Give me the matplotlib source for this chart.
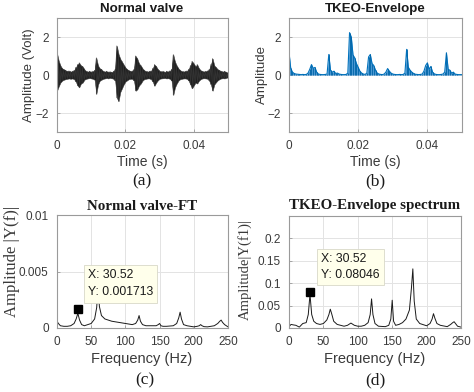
import matplotlib
matplotlib.use("Agg")
import matplotlib.pyplot as plt
import numpy as np

W, H = 474, 392
SANS = ['Liberation Sans', 'DejaVu Sans']
SERIF = ['Liberation Serif', 'DejaVu Serif']

# ---------------- data ----------------
t_step = 0.0005
time_a = [i * t_step for i in range(101)]
valve_upper = [1.15, 0.75, 0.5, 0.35, 0.3, 0.25, 0.2, 0.22, 0.18, 0.2,
               0.25, 0.4, 0.55, 0.64, 0.5, 0.45, 0.3, 0.2, 0.18, 0.2,
               0.17, 0.2, 0.25, 0.9, 0.5, 0.35, 0.3, 0.2, 0.18, 0.2,
               0.16, 0.18, 0.15, 0.2, 0.3, 1.53, 1.1, 0.85, 0.7, 0.55,
               0.4, 0.3, 0.25, 0.2, 0.22, 0.3, 1.0, 0.85, 0.6, 0.5,
               0.35, 0.25, 0.2, 0.18, 0.2, 0.22, 0.35, 0.55, 0.45, 0.3,
               0.22, 0.18, 0.2, 0.16, 0.2, 0.18, 0.22, 0.3, 1.07, 0.7,
               0.5, 0.35, 0.25, 0.2, 0.18, 0.2, 0.22, 0.3, 0.5, 0.72,
               0.6, 0.45, 0.55, 0.35, 0.25, 0.2, 0.18, 0.2, 0.22, 0.3,
               0.55, 0.86, 0.5, 0.4, 0.3, 0.25, 0.2, 0.18, 0.2, 0.15, 0.12]
valve_lower = [-0.83, -0.6, -0.4, -0.3, -0.25, -0.22, -0.2, -0.18, -0.2, -0.18,
               -0.22, -0.35, -0.55, -0.65, -0.45, -0.4, -0.25, -0.2, -0.18, -0.16,
               -0.18, -0.2, -0.25, -1.0, -0.5, -0.3, -0.25, -0.2, -0.18, -0.16,
               -0.18, -0.15, -0.17, -0.2, -0.3, -1.2, -1.38, -0.9, -0.7, -0.5,
               -0.35, -0.28, -0.22, -0.2, -0.2, -0.3, -0.83, -0.75, -0.55, -0.45,
               -0.3, -0.22, -0.2, -0.18, -0.18, -0.22, -0.35, -0.57, -0.4, -0.28,
               -0.2, -0.18, -0.17, -0.16, -0.18, -0.17, -0.2, -0.3, -1.05, -0.65,
               -0.45, -0.3, -0.22, -0.2, -0.18, -0.18, -0.2, -0.3, -0.5, -0.7,
               -0.55, -0.4, -0.45, -0.3, -0.22, -0.18, -0.17, -0.18, -0.2, -0.3,
               -0.5, -0.83, -0.5, -0.38, -0.28, -0.22, -0.18, -0.17, -0.18, -0.15, -0.12]
tkeo_env = [1.2, 0.35, 0.15, 0.08, 0.05, 0.04, 0.03, 0.02, 0.03, 0.02,
            0.03, 0.1, 0.3, 0.55, 0.35, 0.4, 0.15, 0.05, 0.03, 0.02,
            0.02, 0.03, 0.05, 1.08, 0.25, 0.15, 0.2, 0.08, 0.1, 0.05,
            0.03, 0.02, 0.02, 0.03, 0.1, 2.23, 2.0, 1.05, 0.9, 0.6,
            0.4, 0.2, 0.1, 0.05, 0.03, 0.1, 0.95, 1.08, 0.6, 0.5,
            0.25, 0.1, 0.05, 0.03, 0.02, 0.05, 0.15, 0.34, 0.2, 0.1,
            0.05, 0.03, 0.02, 0.02, 0.03, 0.02, 0.03, 0.1, 1.35, 0.4,
            0.25, 0.15, 0.08, 0.04, 0.03, 0.02, 0.03, 0.05, 0.2, 0.5,
            0.64, 0.3, 0.45, 0.15, 0.06, 0.03, 0.02, 0.02, 0.03, 0.05,
            0.15, 1.17, 0.3, 0.25, 0.1, 0.15, 0.05, 0.03, 0.02, 0.02, 0.02]

freq_c = [0, 2, 5, 10, 15, 20, 25, 28, 30.5, 33, 36, 40, 45, 50, 55, 58, 60, 62, 65,
          70, 80, 90, 100, 110, 115, 118, 120, 122, 125, 130, 140, 145, 148, 150,
          152, 155, 160, 170, 175, 178, 180, 182, 185, 190, 200, 205, 208, 210,
          212, 215, 220, 230, 235, 238, 240, 242, 245, 250]
amp_c = [0.0006, 0.0004, 0.0002, 0.00015, 0.00015, 0.0002, 0.0004, 0.0008, 0.0013,
         0.0007, 0.0003, 0.0002, 0.0003, 0.0004, 0.0008, 0.0018, 0.0035, 0.0019,
         0.0011, 0.0008, 0.0006, 0.0005, 0.0004, 0.0003, 0.0004, 0.0007, 0.0011,
         0.0006, 0.0003, 0.0002, 0.0002, 0.0002, 0.0003, 0.0004, 0.0002, 0.00015,
         0.00015, 0.0002, 0.0004, 0.0009, 0.0014, 0.0008, 0.0003, 0.0002, 0.0001,
         0.00015, 0.0002, 0.0003, 0.0002, 0.00012, 0.0001, 0.0002, 0.0004, 0.0006,
         0.0007, 0.0005, 0.0003, 0.0001]

freq_d = [0, 3, 6, 10, 15, 20, 25, 28, 30.5, 33, 36, 40, 45, 50, 55, 58, 60, 62, 65,
          70, 80, 85, 90, 95, 100, 105, 110, 115, 118, 120, 122, 125, 130, 140, 145,
          148, 150, 152, 155, 160, 165, 170, 175, 178, 180, 182, 185, 190, 200, 205,
          208, 210, 212, 215, 220, 230, 235, 238, 240, 242, 245, 250]
amp_d = [0.003, 0.008, 0.007, 0.006, 0.002, 0.01, 0.012, 0.03, 0.075, 0.03, 0.015,
         0.01, 0.008, 0.01, 0.018, 0.03, 0.042, 0.032, 0.015, 0.008, 0.004, 0.006,
         0.011, 0.006, 0.004, 0.004, 0.006, 0.012, 0.03, 0.065, 0.03, 0.01, 0.004,
         0.003, 0.006, 0.02, 0.062, 0.015, 0.006, 0.008, 0.012, 0.02, 0.04, 0.09,
         0.132, 0.06, 0.02, 0.01, 0.005, 0.01, 0.02, 0.032, 0.022, 0.01, 0.006,
         0.003, 0.008, 0.012, 0.014, 0.01, 0.004, 0.002]

tip_c = (30.52, 0.001713)
tip_d = (30.52, 0.08046)

# ---------------- figure ----------------
fig = plt.figure(figsize=(W / 100, H / 100), dpi=100)


def rect(l, t, r, b):
    return [l / W, 1 - b / H, (r - l) / W, (b - t) / H]


def fx(x):
    return x / W


def fy(y):
    return 1 - y / H


EDGE = '#9a9a9a'
GRID = '#e3e3e3'
TICKC = '#3a3a3a'


def style(ax):
    for s in ax.spines.values():
        s.set_color(EDGE)
        s.set_linewidth(0.8)
    ax.grid(True, color=GRID, linewidth=0.7)
    ax.set_axisbelow(True)
    ax.tick_params(direction='in', length=2.5, width=0.6, colors=EDGE,
                   labelcolor=TICKC, labelsize=8.5, pad=6)
    for lab in ax.get_xticklabels() + ax.get_yticklabels():
        lab.set_family(SANS)


# (a)
axa = fig.add_axes(rect(57, 18, 228, 132))
axa.fill_between(time_a, valve_lower, valve_upper, color='#1a1a1a', linewidth=0.4,
                 edgecolor='#444444')
zz_t = np.repeat(time_a, 2)
zz_v = np.ravel(np.column_stack([valve_upper, valve_lower]))
axa.plot(zz_t, zz_v, color='#333333', lw=0.5)
axa.set_xlim(0, 0.05)
axa.set_ylim(-3, 3)
axa.set_xticks([0, 0.02, 0.04])
axa.set_xticklabels(['0', '0.02', '0.04'])
axa.set_yticks([-2, 0, 2])
style(axa)

# (b)
axb = fig.add_axes(rect(289, 18, 462, 132))
axb.fill_between(time_a, 0, tkeo_env, color='#4a97d2', linewidth=0)
axb.plot(time_a, tkeo_env, color='#0072BD', lw=0.8)
axb.vlines(time_a, 0, tkeo_env, color='#0065a8', lw=0.6)
axb.set_xlim(0, 0.05)
axb.set_ylim(-3, 3)
axb.set_xticks([0, 0.02, 0.04])
axb.set_xticklabels(['0', '0.02', '0.04'])
axb.set_yticks([-2, 0, 2])
style(axb)

BOX = dict(boxstyle='square,pad=0.35', fc='#FFFFEB', ec='#d8d8c8', lw=0.6)

# (c)
axc = fig.add_axes(rect(57, 215, 228, 328))
axc.plot(freq_c, amp_c, color='#1a1a1a', lw=0.7)
axc.set_xlim(0, 250)
axc.set_ylim(0, 0.01)
axc.set_xticks([0, 50, 100, 150, 200, 250])
axc.set_yticks([0, 0.005, 0.01])
axc.set_yticklabels(['0', '0.005', '0.01'])
style(axc)
axc.plot([tip_c[0]], [tip_c[1]], marker='s', color='black', markersize=5.2, zorder=5)
axc.text(45, 0.0039, 'X: %.2f\nY: %g' % tip_c, family=SANS, fontsize=8.8,
         color='#1a1a1a', linespacing=1.55, va='center', ha='left', zorder=6,
         bbox=BOX)

# (d)
axd = fig.add_axes(rect(289, 216, 461, 328))
axd.plot(freq_d, amp_d, color='#1a1a1a', lw=0.7)
axd.set_xlim(0, 250)
axd.set_ylim(0, 0.25)
axd.set_xticks([0, 50, 100, 150, 200, 250])
axd.set_yticks([0, 0.05, 0.1, 0.15, 0.2])
axd.set_yticklabels(['0', '0.05', '0.1', '0.15', '0.2'])
style(axd)
axd.plot([tip_d[0]], [tip_d[1]], marker='s', color='black', markersize=5.2, zorder=5)
axd.text(47, 0.136, 'X: %.2f\nY: %g' % tip_d, family=SANS, fontsize=8.8,
         color='#1a1a1a', linespacing=1.45, va='center', ha='left', zorder=6,
         bbox=BOX)

# titles
fig.text(fx(142), fy(9), 'Normal valve', ha='center', va='center', family=SANS,
         fontweight='bold', fontsize=9.6, color='#1a1a1a')
fig.text(fx(375), fy(9), 'TKEO-Envelope', ha='center', va='center', family=SANS,
         fontweight='bold', fontsize=9.6, color='#1a1a1a')
fig.text(fx(142), fy(206), 'Normal valve-FT', ha='center', va='center', family=SERIF,
         fontweight='bold', fontsize=10.8, color='#1a1a1a')
fig.text(fx(375), fy(206), 'TKEO-Envelope spectrum', ha='center', va='center',
         family=SERIF, fontweight='bold', fontsize=10.8, color='#1a1a1a')

# x labels
for x, y, s, fs in [(142, 162, 'Time (s)', 10), (375, 162, 'Time (s)', 10),
                    (142, 359, 'Frequency (Hz)', 10.5), (375, 359, 'Frequency (Hz)', 10.5)]:
    fig.text(fx(x), fy(y), s, ha='center', va='center', family=SANS, fontsize=fs,
             color='#3a3a3a')

# y labels
fig.text(fx(29), fy(75), 'Amplitude (Volt)', ha='center', va='center', family=SANS,
         fontsize=9.5, rotation=90, color='#3a3a3a')
fig.text(fx(262), fy(75), 'Amplitude', ha='center', va='center', family=SANS,
         fontsize=9.5, rotation=90, color='#3a3a3a')
fig.text(fx(12), fy(261), 'Amplitude |Y(f)|', ha='center', va='center', family=SERIF,
         fontsize=12, rotation=90, color='#3a3a3a')
fig.text(fx(245), fy(270), 'Amplitude|Y(f1)|', ha='center', va='center', family=SERIF,
         fontsize=10.5, rotation=90, color='#3a3a3a')

# panel letters
for x, y, s in [(142, 181, '(a)'), (375, 181, '(b)'), (145, 380, '(c)'), (375, 380, '(d)')]:
    fig.text(fx(x), fy(y), s, ha='center', va='center', family=SERIF, fontsize=12.5,
             color='#1a1a1a')

fig.savefig('out.png', dpi=100)
